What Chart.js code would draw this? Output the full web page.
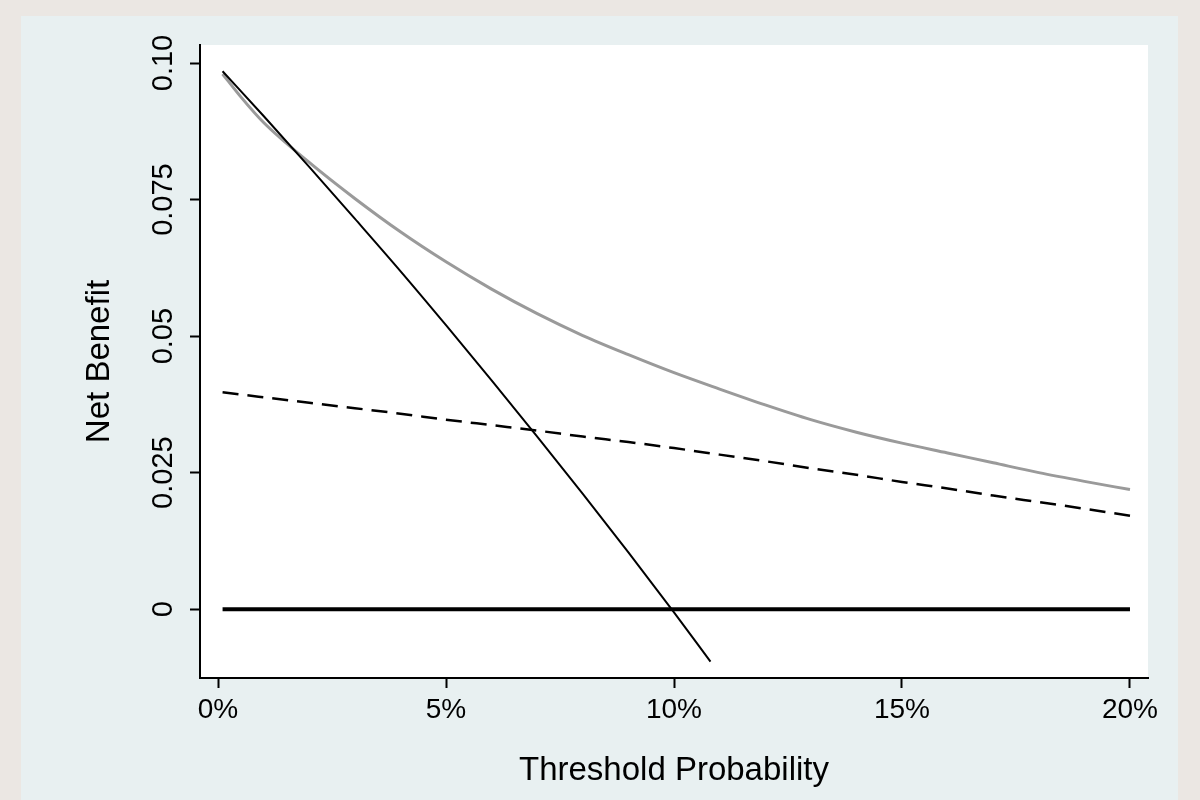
<!DOCTYPE html>
<html>
<head>
<meta charset="utf-8">
<script src="https://cdn.jsdelivr.net/npm/chart.js@4.4.1/dist/chart.umd.min.js"></script>
<style>
  html, body { margin: 0; padding: 0; background: #ebe7e3; }
  #panel { position: absolute; left: 21px; top: 16px; width: 1157px; height: 784px; background: #e8f0f1; }
  #wrap { position: absolute; left: 0; top: 0; width: 1200px; height: 800px; }
</style>
</head>
<body>
<div id="panel"></div>
<div id="wrap"><canvas id="dca" width="1200" height="800"></canvas></div>
<script>
// Decision curve data (threshold in %, net benefit)
const thresholds = [0.1, 0.5, 1, 2, 3, 4, 5, 6, 7, 8, 9, 10, 11, 12, 13, 14, 15, 16, 17, 18, 19, 20];
const modelNB = [0.0980, 0.0938, 0.0891, 0.0818, 0.0752, 0.0691, 0.0636, 0.0586, 0.0541, 0.0501, 0.0466, 0.0433,
                 0.0403, 0.0374, 0.0347, 0.0324, 0.0304, 0.0286, 0.0268, 0.0250, 0.0234, 0.0219];
const dashedNB = [0.0397, 0.0393, 0.0388, 0.0378, 0.0368, 0.0358, 0.0347, 0.0337, 0.0327, 0.0316, 0.0306, 0.0295,
                  0.0283, 0.0271, 0.0258, 0.0246, 0.0233, 0.0221, 0.0208, 0.0196, 0.0184, 0.0171];
const treatAllPct = [0.1, 1, 2, 3, 4, 5, 6, 7, 8, 9, 10, 10.8];
const treatAllNB = [0.0985, 0.0903, 0.0810, 0.0715, 0.0619, 0.0520, 0.0419, 0.0316, 0.0211, 0.0104, -0.0006, -0.0096];
const treatNonePct = [0.1, 20];
const treatNoneNB = [0, 0];

const xTickValues = [0, 5, 10, 15, 20];
const xTickLabels = ['0%', '5%', '10%', '15%', '20%'];
const yTickValues = [0, 0.025, 0.05, 0.075, 0.10];
const yTickLabels = ['0', '0.025', '0.05', '0.075', '0.10'];

function toPoints(xs, ys) {
    return xs.map((x, i) => ({ x: x, y: ys[i] }));
}

const FONT = '"Liberation Sans", Arial, Helvetica, sans-serif';

// white plot region
const plotBg = {
    id: 'plotBg',
    beforeDraw(chart) {
        const a = chart.chartArea;
        const ctx = chart.ctx;
        ctx.save();
        ctx.fillStyle = '#ffffff';
        ctx.fillRect(a.left, a.top, a.right - a.left, a.bottom - a.top);
        ctx.restore();
    }
};

new Chart(document.getElementById('dca'), {
    type: 'line',
    data: {
        datasets: [
            {
                label: 'Treat all',
                data: toPoints(treatAllPct, treatAllNB),
                borderColor: '#000000',
                borderWidth: 2,
                pointRadius: 0,
                cubicInterpolationMode: 'monotone',
                order: 0
            },
            {
                label: 'Treat none',
                data: toPoints(treatNonePct, treatNoneNB),
                borderColor: '#000000',
                borderWidth: 4,
                pointRadius: 0,
                order: 1
            },
            {
                label: 'Model',
                data: toPoints(thresholds, modelNB),
                borderColor: '#9a9a9a',
                borderWidth: 3,
                pointRadius: 0,
                cubicInterpolationMode: 'monotone',
                order: 2
            },
            {
                label: 'Alternative',
                data: toPoints(thresholds, dashedNB),
                borderColor: '#000000',
                borderWidth: 2.5,
                borderDash: [16, 9],
                pointRadius: 0,
                cubicInterpolationMode: 'monotone',
                order: 3
            }
        ]
    },
    options: {
        responsive: false,
        animation: false,
        devicePixelRatio: 1,
        layout: { padding: { left: 0, top: 45, right: 52, bottom: 0 } },
        plugins: {
            legend: { display: false },
            tooltip: { enabled: false }
        },
        scales: {
            x: {
                type: 'linear',
                min: -0.395,
                max: 20.395,
                afterBuildTicks: (scale) => { scale.ticks = xTickValues.map(v => ({ value: v })); },
                afterFit: (scale) => { scale.height = 122; },
                ticks: {
                    color: '#000',
                    font: { family: FONT, size: 28 },
                    padding: 5,
                    maxRotation: 0,
                    callback: (v) => xTickLabels[xTickValues.indexOf(v)]
                },
                grid: { drawOnChartArea: false, tickLength: 10, tickWidth: 2, tickColor: '#000', color: '#000' },
                border: { display: true, color: '#000', width: 2 },
                title: {
                    display: true,
                    text: 'Threshold Probability',
                    color: '#000',
                    font: { family: FONT, size: 33 },
                    padding: { top: 0, bottom: 9 }
                }
            },
            y: {
                type: 'linear',
                min: -0.0126,
                max: 0.1033,
                afterBuildTicks: (scale) => { scale.ticks = yTickValues.map(v => ({ value: v })); },
                afterFit: (scale) => { scale.width = 200; },
                ticks: {
                    color: '#000',
                    font: { family: FONT, size: 29 },
                    padding: -10.5,
                    minRotation: 90,
                    maxRotation: 90,
                    crossAlign: 'center',
                    callback: (v) => yTickLabels[yTickValues.indexOf(v)]
                },
                grid: { drawOnChartArea: false, tickLength: 10, tickWidth: 2, tickColor: '#000', color: '#000' },
                border: { display: true, color: '#000', width: 2 },
                title: {
                    display: true,
                    text: 'Net Benefit',
                    color: '#000',
                    font: { family: FONT, size: 33 },
                    padding: { top: 80, bottom: 0 }
                }
            }
        }
    },
    plugins: [plotBg]
});
</script>
</body>
</html>
